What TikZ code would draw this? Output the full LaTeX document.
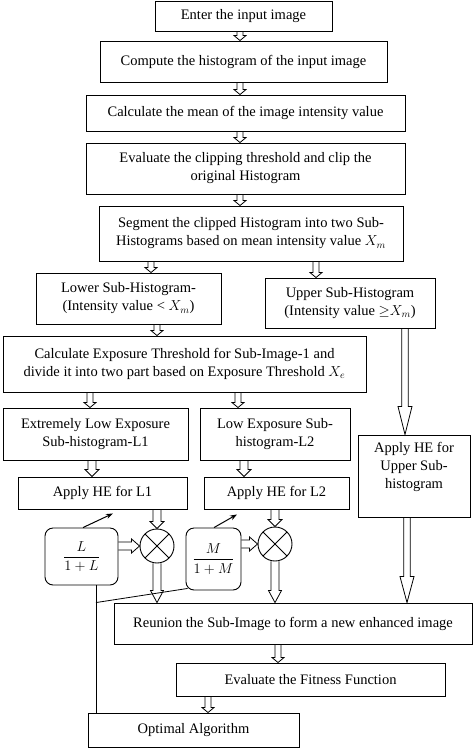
\documentclass[tikz,border=0pt]{standalone}
\usepackage{amsmath,amssymb}
\usepackage{fontspec}
\setmainfont{Liberation Serif}
\usepackage{tikz}
\usetikzlibrary{calc}
\usetikzlibrary{arrows.meta}
\tikzset{
  box/.style={draw, line width=0.9pt, align=center, inner sep=1pt, font=\fontsize{14.5}{18}\selectfont},
  sz/.style 2 args={minimum width=#1pt, minimum height=#2pt},
  gain/.style={box, rounded corners=8pt},
  mult/.style={draw, circle, line width=0.9pt, minimum size=34pt, inner sep=0pt,
    path picture={\draw[line width=0.9pt] (path picture bounding box.north west) -- (path picture bounding box.south east)
      (path picture bounding box.north east) -- (path picture bounding box.south west);}},
  hollow/.style n args={3}{line width=0.8pt, to path={
    let \p1=(\tikztostart), \p2=(\tikztotarget), \n1={atan2(\y2-\y1,\x2-\x1)} in
    ($(\p1)+(\n1+90:#1)$) -- ($(\p2)+(\n1+180:#3)+(\n1+90:#1)$) -- ($(\p2)+(\n1+180:#3)+(\n1+90:#2)$) -- (\p2)
    -- ($(\p2)+(\n1+180:#3)+(\n1-90:#2)$) -- ($(\p2)+(\n1+180:#3)+(\n1-90:#1)$) -- ($(\p1)+(\n1-90:#1)$)}},
  tune/.style={line width=1pt, -{Stealth[length=7pt,width=5pt]}},
  feed/.style={line width=0.8pt}
}
\begin{document}
\begin{tikzpicture}[x=1pt, y=-1pt]
\useasboundingbox (0,0) rectangle (474,748);
% steps
\node[box, sz={177}{30}] (enter) at (243.5,16) {Enter the input image};
\node[box, sz={287}{41}] (hist) at (243.5,61.5) {Compute the histogram of the input image};
\node[box, sz={319}{36}] (mean) at (245.5,113) {Calculate the mean of the image intensity value};
\node[box, sz={319}{51}] (clip) at (245.5,168.5) {Evaluate the clipping threshold and clip the\\original Histogram};
\node[box, sz={304}{55}] (segment) at (251,233.5) {Segment the clipped Histogram into two Sub-\\Histograms based on mean intensity value \(X_m\)};
\node[box, sz={185}{51}] (lower) at (128.5,298.5) {Lower Sub-Histogram-\\(Intensity value < \(X_m\))};
\node[box, sz={170}{50}] (upper) at (350,303) {Upper Sub-Histogram\\(Intensity value \(\mathord{\geq}X_m\))};
\node[box, sz={363}{56}] (expo) at (184.5,364) {Calculate Exposure Threshold for Sub-Image-1 and\\divide it into two part based on Exposure Threshold \(X_e\)};
\node[box, sz={185}{52}] (extlow) at (95.5,434) {Extremely Low Exposure\\Sub-histogram-L1};
\node[box, sz={150}{52}] (lowexp) at (275,434) {Low Exposure Sub-\\histogram-L2};
\node[box, sz={112}{82}] (heup) at (414,476) {Apply HE for\\Upper Sub-\\histogram\\[4pt]};
\node[box, sz={169}{32}] (hel1) at (102.5,493) {Apply HE for L1};
\node[box, sz={145}{32}] (hel2) at (276.5,493) {Apply HE for L2};
\node[gain, sz={73}{57}] (gainl) at (81.5,556.5) {\(\dfrac{L}{1+L}\)};
\node[gain, sz={55}{62}] (gainm) at (213.5,559) {\(\dfrac{M}{1+M}\)};
\node[mult] (mul1) at (157,546) {};
\node[mult] (mul2) at (275,544) {};
\node[box, sz={358}{41}] (reunion) at (293,623.5) {Reunion the Sub-Image to form a new enhanced image};
\node[box, sz={269}{33}] (fitness) at (310.5,679.5) {Evaluate the Fitness Function};
\node[box, sz={211}{34}] (optimal) at (193.5,730) {Optimal Algorithm};

% hollow arrows
\foreach \a/\s/\b in {enter/-3.5/hist, hist/-3.5/mean, mean/-5.5/clip, clip/-5.5/segment,
    segment/-100/lower, segment/65/upper, lower/28.5/expo, expo/-94.5/extlow, expo/53.5/lowexp,
    reunion/-15/fitness, fitness/-102.5/optimal}
  \draw[hollow={3pt}{6pt}{5pt}] ([xshift=\s pt]\a.south) coordinate (t) to (t |- \b.north);
\foreach \a/\s/\b in {extlow/-3.5/hel1, lowexp/-31/hel2}
  \draw[hollow={4pt}{7pt}{7pt}] ([xshift=\s pt]\a.south) coordinate (t) to (t |- \b.north);
\draw[hollow={4pt}{7pt}{7pt}] (mul1.north |- hel1.south) to (mul1.north);
\draw[hollow={4pt}{7pt}{7pt}] (mul2.north |- hel2.south) to (mul2.north);
\draw[hollow={4pt}{7pt}{8pt}] (gainl.east |- mul1.west) to (mul1.west);
\draw[hollow={4pt}{7pt}{8pt}] (gainm.east |- mul2.west) to (mul2.west);
\draw[hollow={4pt}{6.5pt}{12pt}] (mul1.south) to (mul1.south |- reunion.north);
\draw[hollow={4pt}{6.5pt}{12pt}] (mul2.south) to (mul2.south |- reunion.north);
\draw[hollow={3.3pt}{7pt}{28pt}] ([xshift=55pt]upper.south) coordinate (t) to (t |- heup.north);
\draw[hollow={3.3pt}{7pt}{26pt}] ([xshift=-7pt]heup.south) coordinate (t) to (t |- reunion.north);

% gain tuning and feedback
\coordinate (tl) at ([xshift=10.5pt,yshift=-4pt]hel1.south);
\coordinate (tm) at ([xshift=-39.5pt,yshift=-5pt]hel2.south);
\draw[tune] ([xshift=1.5pt]gainl.north) -- (tl);
\draw[tune] ([xshift=0.5pt]gainm.north) -- (tm);
\draw[feed] ([xshift=14.5pt]gainl.south) coordinate (fb) -- (fb |- optimal.north);
\coordinate (fbj) at (fb |- reunion.north);
\draw[feed] (fbj) -- ([xshift=2pt,yshift=2pt]gainm.south west);
\end{tikzpicture}
\end{document}
